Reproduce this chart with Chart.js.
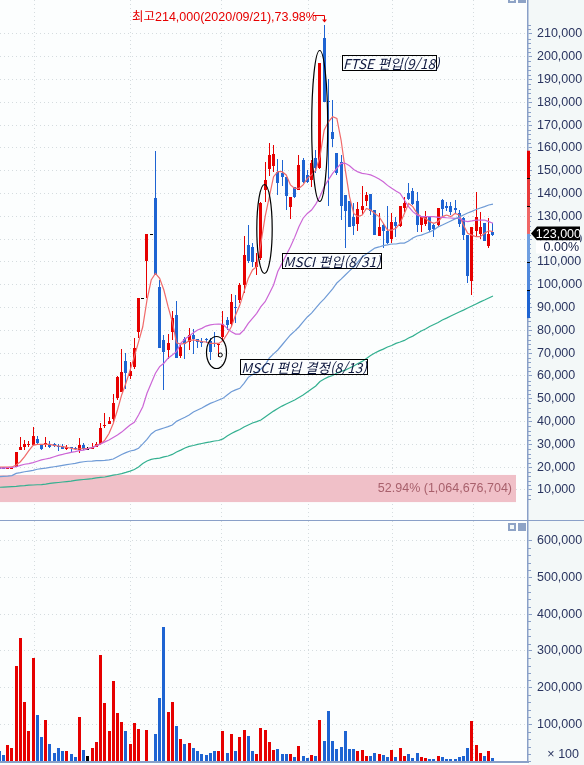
<!DOCTYPE html>
<html lang="ko">
<head>
<meta charset="utf-8">
<title>Chart</title>
<script src="https://cdn.jsdelivr.net/npm/chart.js@4"></script>
<style>
html, body { margin: 0; padding: 0; background: #fcfefe; }
#page { position: relative; width: 584px; height: 765px; overflow: hidden; background: #fcfefe; font-family: "Liberation Sans", "Noto Sans CJK KR", sans-serif; }
#gutter { position: absolute; left: 528px; top: 0; width: 56px; height: 765px; background: #f3f8f8; }
canvas { position: absolute; left: 0; }
#priceChart { top: 0; }
#volumeChart { top: 521px; }
#divider { position: absolute; left: 0; top: 520px; width: 584px; height: 1px; background: #8aa0c8; }
svg { position: absolute; left: 0; top: 0; }
.note { position: absolute; box-sizing: border-box; border: 1px solid #000; font: italic 13.5px/14px "Noto Sans CJK KR", sans-serif; color: #101a40; text-align: center; white-space: nowrap; }
.txt { position: absolute; white-space: nowrap; font-size: 12.5px; line-height: 14px; }
.icon { position: absolute; width: 8px; height: 8px; box-sizing: border-box; background: #8ea3c6; border: 2px solid #8ea3c6; }
.icon.box { background: #f3f8f8; }
</style>
</head>
<body>
<div id="page">
  <div id="gutter"></div>
  <canvas id="priceChart" width="584" height="520"></canvas>
  <canvas id="volumeChart" width="584" height="244"></canvas>
  <div id="divider"></div>

  <svg width="584" height="765">
    <ellipse cx="216.5" cy="352.5" rx="10" ry="16" fill="none" stroke="#000" stroke-width="1.2"/>
    <ellipse cx="264.5" cy="229" rx="7.7" ry="44.5" fill="none" stroke="#000" stroke-width="1.2"/>
    <ellipse cx="319.7" cy="126" rx="8" ry="75.5" fill="none" stroke="#000" stroke-width="1.2"/>
    <circle cx="220.3" cy="355" r="2" fill="none" stroke="#000" stroke-width="1"/>
    <path d="M313 15.5H324.5V20" fill="none" stroke="#e60000" stroke-width="1"/>
    <path d="M322 19.5H327L324.5 22.5Z" fill="#e60000"/>
    <path d="M531 233.5L537 226.5H580V240.5H537Z" fill="#000"/>
    <rect x="536" y="240.5" width="44" height="13" fill="#fff"/>
  </svg>

  <div class="txt" style="left:132px;top:10px;color:#e60000">최고214,000(2020/09/21),73.98%</div>
  <div class="note" style="left:342px;top:55px;width:95px;height:16px">FTSE 편입(9/18)</div>
  <div class="note" style="left:282px;top:253px;width:100px;height:16px">MSCI 편입(8/31)</div>
  <div class="note" style="left:240px;top:359px;width:128px;height:16px">MSCI 편입 결정(8/13)</div>
  <div class="txt" style="right:72px;top:481px;color:#a8606c">52.94% (1,064,676,704)</div>
  <div class="txt" style="right:3px;top:226.5px;color:#fff">123,000</div>
  <div class="txt" style="right:5px;top:240px;color:#101a40">0.00%</div>
  <div class="txt" style="right:5px;top:747px;color:#2a3560">× 100</div>

  <div class="icon box" style="left:508px;top:-5px"></div>
  <div class="icon" style="left:518px;top:-5px"></div>
  <div class="icon box" style="left:508px;top:523px"></div>
  <div class="icon" style="left:518px;top:523px"></div>
</div>

<script>
const opens = [20100,19900,19100,19400,19900,27400,28700,29600,29700,32400,29600,29900,30300,30200,29300,29300,27800,28700,28300,27500,
  29600,28100,28100,28900,30200,38200,38900,41100,50300,53000,66400,60100,64000,79300,94200,110600,122300,138100,99000,75800,
  71400,79300,86800,68600,76100,74800,78000,76100,75500,76100,75200,74300,73600,77000,84600,82900,90400,93300,99900,117500,
  116700,107900,111600,141600,150800,152100,149500,148900,147400,134000,142800,141600,154700,148200,146000,155500,151400,208100,180100,167200,
  157700,153900,139400,136800,129600,126700,132800,136800,139800,132800,121600,126200,123700,120200,127700,125900,133500,140400,141300,136800,
  126200,126700,129900,126200,126200,137200,134600,134600,133700,131600,129100,121800,101800,123700,122300,127000,117000,123300]
const closes = [19100,19100,19900,20200,26700,28900,30200,30000,33500,30500,28000,30500,28700,29300,29000,28000,28700,28300,27800,29600,
  27800,28100,29000,30000,37200,38500,40100,48000,59600,61800,61300,62200,72300,94200,94200,122300,122300,104100,72400,70700,
  74300,85300,67900,72600,74200,78000,76200,74800,74600,75600,70700,73900,74000,82800,82400,92500,89700,99900,113100,110600,
  110100,110100,135700,146000,156900,157200,144800,147400,138900,138700,138700,152500,145200,145200,153300,151100,197100,180000,180000,163800,
  148900,134600,132500,125500,125800,133100,134600,139400,132500,121700,125200,123700,118200,127700,125800,134600,135700,137600,135400,126200,
  130200,129900,124000,124300,133500,133100,133800,131800,132800,126700,121800,103900,125200,129600,125200,119400,122300,121800]
const highs = [20100,19900,19900,20200,26700,33200,31800,31500,37500,33800,30200,33100,31300,30600,30000,30000,29900,28700,28700,32800,
  30500,29000,30800,31200,39200,43600,41900,52000,60000,71800,69900,66300,76700,94200,94200,122300,122300,158800,102100,78000,
  78400,88400,92900,73600,77000,81100,80500,76100,76700,76700,76500,79300,74300,88400,85700,96000,95500,100900,121400,126200,
  118200,113800,136500,153700,162000,161300,155000,154700,147400,138700,142800,156900,155500,150300,154700,159100,197100,214000,190100,181100,
  157700,156900,139400,136800,135700,136500,143300,140800,139800,132800,131300,126700,134600,131300,129900,134600,138700,144500,142300,140800,
  130200,132500,129900,126700,133500,137600,136500,136500,137200,132800,129900,121800,125200,140800,132100,127000,129200,127000]
const lows = [19100,19100,19100,19400,19900,27400,27500,29000,29700,30000,27500,29000,28300,29000,27300,27800,27500,26700,27500,26400,
  27500,28000,27800,28700,29700,37300,38800,39700,49500,53000,54300,58500,62900,76800,94200,94100,122300,104100,72400,53900,
  67500,75800,67900,67900,67500,71400,69600,72300,72600,74300,67000,72900,68500,75200,80200,81600,83100,91900,96200,109400,
  107900,104300,110900,136500,147900,149600,139400,143300,132800,128900,137900,141600,144500,144500,143000,148900,150800,180000,134600,160400,
  148200,128400,116000,125200,121800,123700,130600,134600,130600,121700,121600,116000,117900,118200,120800,125200,132100,137200,135000,123000,
  123300,125900,123300,121100,125500,129100,132500,130600,131300,125500,119600,100600,95500,121400,119900,119400,116000,121400]
const volumes = [28100,17200,44400,36200,259000,335100,161200,82400,280800,125900,66100,112300,47100,22600,36200,28100,28100,19900,11800,120500,
  30800,14500,36200,52500,288900,158500,82400,218300,131300,106900,82400,47100,104200,87900,0,85100,0,74300,172100,365000,
  134100,161200,96000,60700,47100,49800,36200,28100,19900,17200,22600,28100,28100,82400,22600,74300,28100,66100,85100,68800,
  28100,19900,90600,85100,52500,30800,33500,19900,19900,19900,11800,41700,14500,9100,17200,14500,112300,55300,136800,55300,
  33500,38900,82400,33500,33500,28100,30800,14500,14500,22600,19900,17200,11800,30800,11800,36200,14500,19900,9100,22600,
  11800,9100,6300,6300,14500,11800,6300,6300,6300,11800,14500,36200,109600,44400,22600,14500,28100,9100]
const ma5 = [20000,20000,20000,20100,21000,22400,24600,27300,29600,30000,30000,30000,30000,29600,29300,29000,28700,28300,27800,28100,
  28100,28300,28600,29600,30200,31900,34800,39200,45100,51700,56800,62600,68500,75000,81600,93300,102100,105000,102800,97700,
  90400,83800,74600,74000,74300,75500,75800,75500,75100,74900,74300,74300,74300,75500,78400,81600,86800,91100,97000,102800,
  106500,107900,118200,129900,138700,147400,149600,149600,148200,143800,142300,142300,143800,146700,148200,150300,156200,167900,171500,173700,
  173000,163500,150300,138700,131300,129900,130600,133500,132800,131300,129900,127000,124000,124000,124800,127000,131300,135700,134300,131300,
  129900,129100,127700,127000,127700,129900,130600,129900,131300,130600,126200,122600,121800,121100,121100,122600,123700,123300]
const ma20 = [19600,19600,19800,19900,20200,20800,21300,21600,22000,22600,23200,23600,24000,24600,25200,25600,26100,26500,26800,27300,
  27500,28100,28600,29300,30200,31100,31900,33000,34100,35400,37000,38500,39700,42900,46500,52400,56800,61200,64100,65600,
  67800,69200,70700,74300,76200,77500,79000,80200,80900,81900,82400,82700,82800,82700,80900,79400,78400,78400,80200,83100,
  85300,87500,90400,92600,96200,99900,105800,109400,113100,116700,120800,125500,129200,131300,132800,135400,138700,143000,146000,148900,
  151100,153300,153300,152200,150600,149500,148900,148600,148200,147400,146400,145200,143600,142300,141100,140100,137200,134300,132100,130600,
  129900,129900,129900,129900,129600,129600,129400,129300,129100,129100,128100,127700,128000,128400,128400,128400,127700,127000]
const ma60 = [15800,16000,16100,16300,17300,17600,18000,18300,18600,19100,19400,19600,19900,20200,20500,20800,21100,21400,21700,22100,
  22400,22600,22700,22900,22900,23000,23200,23600,24600,25600,26400,27100,27500,28300,30200,32200,34600,36000,36600,37200,
  37800,38500,40100,41000,41900,42900,44200,45100,46000,47000,48000,48700,49500,50200,51700,53100,53900,54600,56800,59400,
  60700,61600,63100,64800,67900,69700,71400,73600,75800,78000,79700,81500,83700,85900,87600,89800,92000,93800,96000,98200,
  100800,102500,104300,106100,107800,110000,112200,113500,114800,116100,116600,117200,117500,117900,117900,118300,118300,119200,120500,121400,
  121800,122500,123200,124000,125400,126200,127100,128000,128900,129700,130600,131500,132200,133000,133700,134300,135000,135400]
const ma120 = [11200,11300,11400,11500,11600,11800,11900,12100,12200,12300,12400,12600,12900,13100,13300,13500,13700,13900,14200,14400,
  14600,14800,15000,15300,15500,15700,16100,16500,16800,17200,17700,18300,19000,20100,21600,22700,23400,23800,24000,24500,
  24900,25600,26700,27500,28400,29100,29500,30000,30400,30800,31100,31500,31700,32400,33700,34800,35700,36500,37600,38500,
  39400,40000,40700,42000,43300,44600,45700,46800,47700,48600,49500,50600,51700,53000,54300,55600,57600,58700,59600,60200,
  61300,62000,62600,63500,64400,65500,66400,67700,69000,70100,71000,71800,72700,73400,74300,74900,75600,76700,77500,78600,
  79700,80600,81700,82600,83500,84600,85400,86300,87200,88100,88900,89800,90700,91600,92500,93300,94200,95100]

const priceLabels = [210000,200000,190000,180000,170000,160000,150000,140000,130000,120000,110000,100000,90000,80000,70000,60000,50000,40000,30000,20000,10000]
const volumeLabels = [600000,500000,400000,300000,200000,100000]
const monthTicks = [19.8, 42.6, 62.7, 83.8, 102.8]
const sessions = opens.map((_, i) => i)

// traded-range band on the price axis, top to bottom
const rangeEdges = [158800,146800,134500,122300,110000,97700,85400]
const rangeColors = ["#e60000","#e83a3a","#ef6666","#6f9fe0","#4f88dc","#1e64d2"]

const UP = "#e60000"
const DOWN = "#1e64d2"
const AXIS = "#8aa0c8"
const INK = "#2a3560"
const GRID = "#d5dcdf"

function candleColor(i){
  if(closes[i] > opens[i]) return UP
  if(closes[i] < opens[i]) return DOWN
  return "#000"
}
const candleColors = sessions.map(candleColor)

function stepTicks(from, to, step){
  const ticks = []
  for(let v = from; v <= to; v += step){
    ticks.push({ value: v })
  }
  return ticks
}

// keep bars on whole pixels, the original is not antialiased
const snapBars = {
  id: "snapBars",
  afterDatasetsUpdate(chart){
    chart.data.datasets.forEach((ds, index) => {
      if(ds.type === "line") return
      chart.getDatasetMeta(index).data.forEach((el) => {
        el.x = Math.floor(el.x) + 0.5
        el.y = Math.round(el.y)
        el.base = Math.round(el.base)
      })
    })
  }
}

const minorTicks = {
  id: "minorTicks",
  afterDraw(chart){
    const { ctx, chartArea, scales: { y } } = chart
    const labels = chart.options.plugins.minorTicks.labels
    ctx.save()
    ctx.fillStyle = AXIS
    y.ticks.forEach((tick) => {
      if(labels.includes(tick.value)) return
      ctx.fillRect(chartArea.right, Math.round(y.getPixelForValue(tick.value)), 3, 1)
    })
    ctx.restore()
  }
}

const priceExtras = {
  id: "priceExtras",
  beforeDatasetsDraw(chart){
    const { ctx, scales: { y } } = chart
    const top = y.getPixelForValue(16600)
    const bottom = y.getPixelForValue(4700)
    ctx.save()
    ctx.fillStyle = "#f0c0c8"
    ctx.fillRect(0, top, 516, bottom - top)
    ctx.restore()
  },
  afterDraw(chart){
    const { ctx, scales: { y } } = chart
    ctx.save()
    rangeColors.forEach((color, i) => {
      const top = y.getPixelForValue(rangeEdges[i])
      const bottom = y.getPixelForValue(rangeEdges[i + 1])
      ctx.fillStyle = color
      ctx.fillRect(527, top, 3, bottom - top)
      if(i > 0 && i !== 3){
        ctx.fillStyle = "#000"
        ctx.fillRect(527, Math.round(top), 3, 1)
      }
    })
    ctx.restore()
  }
}

function xAxis(showBorder){
  return {
    type: "linear",
    min: 0.166,
    max: 125.3,
    offset: false,
    afterBuildTicks(scale){
      scale.ticks = monthTicks.map((value) => ({ value }))
    },
    afterFit(scale){
      scale.height = 0
    },
    ticks: { display: false, autoSkip: false },
    grid: { color: GRID, drawTicks: false, lineWidth: 1 },
    border: { display: showBorder, color: AXIS, width: 2, dash: [1, 3] }
  }
}

function yAxis(min, max, ticks, labels){
  return {
    position: "right",
    min,
    max,
    afterBuildTicks(scale){
      scale.ticks = ticks
    },
    afterFit(scale){
      scale.width = 56
      scale.paddingTop = 0
      scale.paddingBottom = 0
    },
    ticks: {
      padding: 5,
      autoSkip: false,
      color: INK,
      font: { family: "'Liberation Sans'", size: 12.5 },
      callback: (value) => labels.includes(value) ? value.toLocaleString("en-US") : ""
    },
    grid: {
      tickLength: 4,
      lineWidth: 1,
      color: (c) => labels.includes(c.tick && c.tick.value) ? GRID : "transparent",
      tickColor: (c) => labels.includes(c.tick && c.tick.value) ? AXIS : "transparent"
    },
    border: { color: AXIS, width: 1.5, dash: [1, 3] }
  }
}

function maLine(data, color){
  return { type: "line", data, borderColor: color, borderWidth: 1.2, pointRadius: 0, tension: 0, order: 0 }
}

const baseOptions = {
  responsive: false,
  animation: false,
  devicePixelRatio: 1,
  layout: { padding: 0 }
}

new Chart(document.getElementById("priceChart"), {
  type: "bar",
  data: {
    labels: sessions,
    datasets: [
      maLine(ma120, "#33b090"),
      maLine(ma60, "#6f9bd6"),
      maLine(ma20, "#cc66d6"),
      maLine(ma5, "#f06a6a"),
      {
        data: opens.map((o, i) => [o, closes[i]]),
        backgroundColor: candleColors,
        barThickness: 3,
        minBarLength: 1,
        inflateAmount: 0,
        grouped: false,
        order: 1
      },
      {
        data: lows.map((l, i) => [l, highs[i]]),
        backgroundColor: candleColors,
        barThickness: 1,
        inflateAmount: 0,
        grouped: false,
        order: 2
      }
    ]
  },
  options: {
    ...baseOptions,
    plugins: { legend: { display: false }, tooltip: { enabled: false }, minorTicks: { labels: priceLabels } },
    scales: {
      x: xAxis(false),
      y: yAxis(-3158, 224912, stepTicks(6000, 214000, 2000), priceLabels)
    }
  },
  plugins: [snapBars, minorTicks, priceExtras]
})

new Chart(document.getElementById("volumeChart"), {
  type: "bar",
  data: {
    labels: sessions,
    datasets: [{
      data: volumes,
      backgroundColor: candleColors,
      barThickness: 3,
      inflateAmount: 0
    }]
  },
  options: {
    ...baseOptions,
    layout: { padding: { bottom: 3 } },
    plugins: { legend: { display: false }, tooltip: { enabled: false }, minorTicks: { labels: volumeLabels } },
    scales: {
      x: xAxis(true),
      y: yAxis(-1900, 653000, stepTicks(0, 600000, 20000), volumeLabels)
    }
  },
  plugins: [snapBars, minorTicks]
})
</script>
</body>
</html>
